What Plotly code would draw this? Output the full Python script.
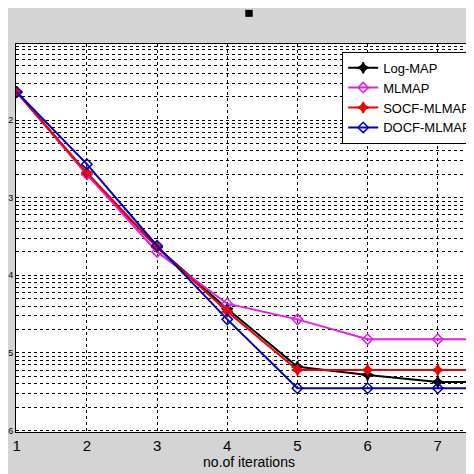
import plotly.graph_objects as go

iterations = [1, 2, 3, 4, 5, 6, 7, 8]
log_map = [2.3e-2, 2.0e-3, 2.3e-4, 3.7e-5, 6.6e-6, 5.2e-6, 4.2e-6, 4.2e-6]
mlmap = [2.3e-2, 2.0e-3, 2.0e-4, 4.3e-5, 2.7e-5, 1.5e-5, 1.5e-5, 1.5e-5]
socf = [2.3e-2, 2.1e-3, 2.3e-4, 3.4e-5, 6.0e-6, 6.0e-6, 6.0e-6, 6.0e-6]
docf = [2.3e-2, 2.7e-3, 2.4e-4, 2.7e-5, 3.5e-6, 3.5e-6, 3.5e-6, 3.5e-6]
decades = [1e-6, 1e-5, 1e-4, 1e-3, 1e-2, 1e-1]
decade_labels = ['6', '5', '4', '3', '2', '1']

series = [
    ('Log-MAP', log_map, 'black', 'star-diamond', 'black'),
    ('MLMAP', mlmap, '#e020e0', 'diamond-open', '#e020e0'),
    ('SOCF-MLMAP', socf, '#ee0000', 'star-diamond', '#ee0000'),
    ('DOCF-MLMAP', docf, '#0000bb', 'diamond-open', '#0000bb'),
]

fig = go.Figure()
for name, vals, col, sym, mcol in series:
    fig.add_trace(go.Scatter(x=iterations, y=vals, name=name, mode='lines+markers',
                             line=dict(color=col, width=2),
                             marker=dict(symbol=sym, size=8, color=mcol, line=dict(color=mcol, width=1.5))))

grid = dict(showgrid=True, gridcolor='black', griddash='dot', gridwidth=1)
fig.update_xaxes(range=[0.99, 7.63], tickvals=iterations, **grid,
                 showline=True, linecolor='black', mirror=True, ticks='',
                 tickfont=dict(family='Arial', size=15, color='black'),
                 title=dict(text='no.of iterations', font=dict(family='Arial', size=14, color='black'), standoff=0))
fig.update_yaxes(type='log', range=[-6.02, -1.02], tickvals=decades, ticktext=decade_labels, **grid,
                 minor=dict(showgrid=True, dtick='D1', gridcolor='black', griddash='dot', gridwidth=1),
                 showline=True, linecolor='black', mirror=True, ticks='',
                 tickfont=dict(family='Arial', size=9, color='black'), ticklabelstandoff=0)
fig.update_layout(
    width=474, height=474, margin=dict(l=8, r=0, t=36, b=50, autoexpand=False),
    paper_bgcolor='#d4d4d4', plot_bgcolor='white', showlegend=True,
    legend=dict(x=0.7, y=0.98, xanchor='left', yanchor='top', bgcolor='white',
                bordercolor='black', borderwidth=1, tracegroupgap=0,
                font=dict(family='Arial', size=13, color='black')),
    shapes=[dict(type='rect', xref='paper', yref='paper', x0=0.492, x1=0.508, y0=1.07, y1=1.088,
                 fillcolor='black', line=dict(width=0))],
)
fig.write_html('out.html')
